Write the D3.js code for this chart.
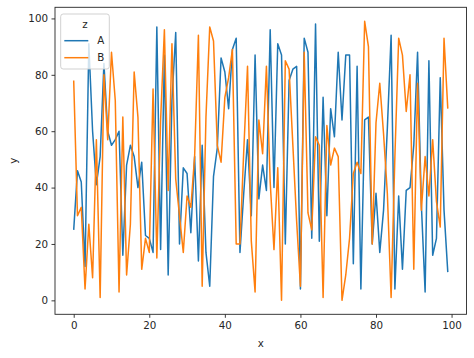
<!DOCTYPE html>
<html><head><meta charset="utf-8">
<script src="https://cdn.jsdelivr.net/npm/d3@7"></script>
<style>body{margin:0;background:#fff}svg{display:block}text{font-family:"DejaVu Sans",sans-serif;fill:#262626}</style>
</head><body><svg id="c" width="474" height="358"></svg>
<script>
const xTicks = [0, 20, 40, 60, 80, 100];
const yTicks = [0, 20, 40, 60, 80, 100];
const seriesNames = ["A", "B"];
const colors = ["#1f77b4", "#ff7f0e"];
const valuesA = [25,46,42,12,91,60,41,51,84,60,55,57,60,16,48,55,51,40,49,23,22,17,97,18,87,9,71,95,20,47,45,24,51,14,55,17,5,44,54,86,81,68,89,93,17,38,57,30,87,36,48,39,96,40,91,87,20,78,82,83,4,93,88,22,98,21,72,30,68,58,88,64,87,87,13,83,4,64,65,20,38,17,32,61,94,4,37,11,39,40,55,88,34,3,85,16,22,79,32,10];
const valuesB = [78,30,33,4,27,8,57,1,80,57,88,71,3,65,9,27,81,65,11,22,17,75,15,64,96,39,91,43,30,17,37,33,51,94,5,65,97,92,55,49,72,79,89,20,20,53,83,21,3,64,52,83,42,18,47,0,85,82,55,28,5,88,31,25,58,55,1,62,48,54,51,0,9,22,45,49,45,99,90,20,63,77,59,38,1,51,93,87,67,80,11,77,32,51,37,57,35,26,93,68];
const xs = d3.range(100);

const svg = d3.select("#c");
const L = 55, R = 466.5, T = 7.3, B = 314.3;
const x = d3.scaleLinear().domain([-4.95, 103.95]).range([L, R]);
const y = d3.scaleLinear().domain([-4.95, 103.95]).range([B, T]);

const g = svg.append("g");
const line = d3.line().x((d, i) => x(xs[i])).y(d => y(d));
[valuesA, valuesB].forEach((vals, k) => {
  g.append("path").datum(vals).attr("d", line).attr("fill", "none")
    .attr("stroke", colors[k]).attr("stroke-width", 1.5).attr("stroke-linejoin", "round");
});

svg.append("rect").attr("x", L).attr("y", T).attr("width", R - L).attr("height", B - T)
  .attr("fill", "none").attr("stroke", "#262626").attr("stroke-width", 0.9);

const xa = svg.append("g").attr("transform", `translate(0,${B})`)
  .call(d3.axisBottom(x).tickValues(xTicks).tickSize(3.5).tickPadding(3.5).tickFormat(d3.format("d")));
const ya = svg.append("g").attr("transform", `translate(${L},0)`)
  .call(d3.axisLeft(y).tickValues(yTicks).tickSize(3.5).tickPadding(3.5).tickFormat(d3.format("d")));
[xa, ya].forEach(a => {
  a.select(".domain").remove();
  a.selectAll("line").attr("stroke", "#262626").attr("stroke-width", 0.9);
  a.selectAll("text").attr("font-size", 10.3).attr("fill", "#262626").style("font-family", "DejaVu Sans");
});

svg.append("text").attr("x", (L + R) / 2).attr("y", 347).attr("text-anchor", "middle").attr("font-size", 10.3).text("x");
svg.append("text").attr("transform", `translate(16.5,${(T + B) / 2}) rotate(-90)`).attr("text-anchor", "middle").attr("font-size", 10.3).text("y");

// legend
const lg = svg.append("g");
lg.append("rect").attr("x", 60.7).attr("y", 14).attr("width", 48.6).attr("height", 55).attr("rx", 2.5)
  .attr("fill", "#fff").attr("fill-opacity", 0.8).attr("stroke", "#cccccc").attr("stroke-width", 0.9);
lg.append("text").attr("x", 85).attr("y", 28).attr("text-anchor", "middle").attr("font-size", 10.3).text("z");
seriesNames.forEach((n, k) => {
  const yy = 40.7 + k * 17;
  lg.append("line").attr("x1", 64.3).attr("x2", 88.3).attr("y1", yy).attr("y2", yy)
    .attr("stroke", colors[k]).attr("stroke-width", 1.5);
  lg.append("text").attr("x", 97.3).attr("y", yy + 3.7).attr("font-size", 10.3).text(n);
});
</script></body></html>
